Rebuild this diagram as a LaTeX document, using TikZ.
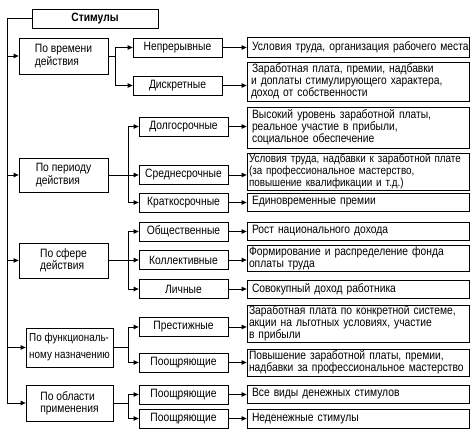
\documentclass[tikz,border=0pt]{standalone}
\usepackage{fontspec}
\setmainfont[FakeStretch=0.85]{Liberation Sans}
\usetikzlibrary{arrows.meta}
\begin{document}
\begin{tikzpicture}[x=1pt,y=-1pt,
  every node/.style={font=\fontsize{12.1}{12.2}\selectfont},
  box/.style={draw, line width=0.8pt, inner sep=0pt, align=center},
  lone/.style={box, minimum width=89pt, align=left},
  ltwo/.style={box, minimum width=89pt, minimum height=19pt},
  lthree/.style={box, text width=218pt, inner xsep=2pt, align=left},
  con/.style={line width=0.8pt},
  arr/.style={con, -{Triangle[length=5pt,width=4.5pt]}}]
\useasboundingbox (0,0) rectangle (474,435);
% root
\node[box, minimum width=126pt, minimum height=19pt, font=\fontsize{12.1}{12.2}\selectfont\bfseries] (root) at (95,18.5) {Стимулы};
% level 1
\node[lone, minimum height=36pt] (a) at (63.5,56) {По времени\\действия};
\node[lone, minimum height=34pt] (b) at (63.5,175) {По периоду\\действия};
\node[lone, minimum height=35pt] (c) at (63.5,260.5) {По сфере\\действия};
\node[lone, minimum width=87pt, minimum height=39pt, font=\fontsize{11.6}{17}\selectfont] (d) at (69.5,347.5) {По функциональ-\\ному назначению};
\node[lone, minimum width=87pt, minimum height=36pt] (e) at (69.5,403) {По области\\применения};
% level 2
\node[ltwo] (a1) at (177.5,47.5) {Непрерывные};
\node[ltwo] (a2) at (177.5,85.5) {Дискретные};
\node[ltwo] (b1) at (183.5,126.5) {Долгосрочные};
\node[ltwo] (b2) at (183.5,175) {Среднесрочные};
\node[ltwo] (b3) at (183.5,202.5) {Краткосрочные};
\node[ltwo] (c1) at (183.5,231.5) {Общественные};
\node[ltwo] (c2) at (183.5,260) {Коллективные};
\node[ltwo] (c3) at (183.5,289) {Личные};
\node[ltwo] (d1) at (183.5,327) {Престижные};
\node[ltwo] (d2) at (183.5,362.5) {Поощряющие};
\node[ltwo] (e1) at (183.5,394.5) {Поощряющие};
\node[ltwo] (e2) at (183.5,418.5) {Поощряющие};
% level 3
\node[lthree, minimum height=20pt] (a1t) at (358,47) {\mbox{\hspace{3pt}Условия труда, организация рабочего места}};
\node[lthree, minimum height=39pt] (a2t) at (358,81.5) {\hspace{3pt}Заработная плата, премии, надбавки\\\hspace{2pt}и доплаты стимулирующего характера,\\\hspace{2pt}доход от собственности};
\node[lthree, minimum height=41pt] (b1t) at (358,127.5) {\hspace{3pt}Высокий уровень заработной платы,\\\hspace{3pt}реальное участие в прибыли,\\\hspace{3pt}социальное обеспечение};
\node[lthree, minimum height=37pt, font=\fontsize{11.6}{12.2}\selectfont] (b2t) at (358,171.5) {\mbox{Условия труда, надбавки к заработной плате}\\(за профессиональное мастерство,\\повышение квалификации и т.д.)};
\node[lthree, minimum height=18pt] (b3t) at (358,202) {\hspace{3pt}Единовременные премии};
\node[lthree, minimum height=18pt] (c1t) at (358,231) {\hspace{3pt}Рост национального дохода};
\node[lthree, minimum height=26pt] (c2t) at (358,258) {Формирование и распределение фонда\\оплаты труда};
\node[lthree, minimum height=18pt] (c3t) at (358,289) {\hspace{3pt}Совокупный доход работника};
\node[lthree, minimum height=37pt] (d1t) at (358,323.5) {Заработная плата по конкретной системе,\\акции на льготных условиях, участие\\в прибыли};
\node[lthree, minimum height=27pt] (d2t) at (358,362.5) {Повышение заработной платы, премии,\\\mbox{надбавки за профессиональное мастерство}};
\node[lthree, minimum height=18pt] (e1t) at (358,394) {\hspace{3pt}Все виды денежных стимулов};
\node[lthree, minimum height=19pt] (e2t) at (358,418.5) {\hspace{3pt}Неденежные стимулы};
% trunk
\coordinate (tb) at (7,403);
\draw[con] (root.west) -| (tb);
\foreach \n in {a,b,c,d,e} \draw[arr] (\n.west -| tb) -- (\n.west);
% branches
\coordinate (bA) at (115,0);
\coordinate (bB) at (128,0);
\draw[con] (a.east) -- (a.east -| bA);
\draw[con] (a1.west -| bA) -- (a2.west -| bA);
\foreach \n in {a1,a2} \draw[arr] (\n.west -| bA) -- (\n.west);
\draw[con] (b.east) -- (b.east -| bB);
\draw[con] (b1.west -| bB) -- (b3.west -| bB);
\foreach \n in {b1,b2,b3} \draw[arr] (\n.west -| bB) -- (\n.west);
\draw[con] (c.east) -- (c.east -| bB);
\draw[con] (c1.west -| bB) -- (c3.west -| bB);
\foreach \n in {c1,c2,c3} \draw[arr] (\n.west -| bB) -- (\n.west);
\draw[con] (d.east) -- (d.east -| bB);
\draw[con] (d1.west -| bB) -- (d2.west -| bB);
\foreach \n in {d1,d2} \draw[arr] (\n.west -| bB) -- (\n.west);
\draw[con] (e.east) -- (e.east -| bB);
\draw[con] (e1.west -| bB) -- (e2.west -| bB);
\foreach \n in {e1,e2} \draw[arr] (\n.west -| bB) -- (\n.west);
% level 2 to level 3
\foreach \n in {a1,a2,b1,b2,b3,c1,c2,c3,d1,d2,e1,e2} \draw[arr] (\n.east) -- (\n.east -| \n t.west);
\end{tikzpicture}
\end{document}
